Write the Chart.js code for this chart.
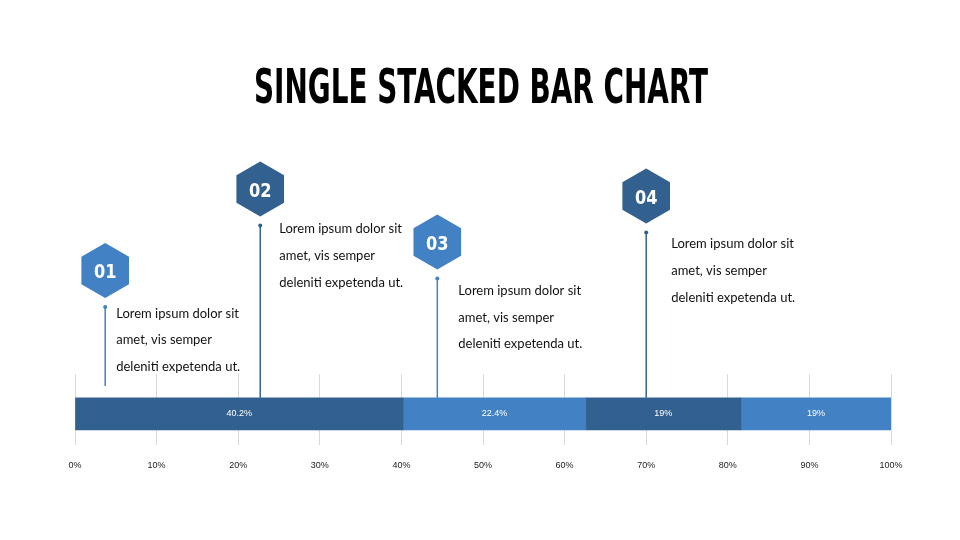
<!DOCTYPE html>
<html>
<head>
<meta charset="utf-8">
<script src="https://cdn.jsdelivr.net/npm/chart.js@4"></script>
<style>
  html, body { margin: 0; padding: 0; background: #fff; }
  #wrap { width: 960px; height: 540px; }
</style>
</head>
<body>
<div id="wrap"><canvas id="chart"></canvas></div>
<script>
// Datos del gráfico
const titulo = 'SINGLE STACKED BAR CHART';
const segmentos = ['40.2%', '22.4%', '19%', '19%'];
const valores = [40.2, 22.4, 19, 19];
const ticks = [0, 10, 20, 30, 40, 50, 60, 70, 80, 90, 100];
const pines = [3.7, 22.7, 44.4, 70];
const numeros = ['01', '02', '03', '04'];
const textoPin = ['Lorem ipsum dolor sit', 'amet, vis semper', 'deleniti expetenda ut.'];

// Estilos
const oscuro = '#33618f';
const claro = '#4281c3';
const coloresSeg = [oscuro, claro, oscuro, claro];
const coloresPin = [claro, oscuro, claro, oscuro];

// Posición de los hexágonos y textos (maquetación)
const hexY = [270.5, 189, 242, 196];
const finLinea = [386, null, null, null];   // null = hasta la barra
const textoDx = [11, 19, 21, 25];
const textoY = [317.5, 233.3, 295, 248.3];

function hexagono(ctx, cx, cy, r) {
  ctx.beginPath();
  for (let i = 0; i < 6; i++) {
    const a = Math.PI / 180 * (60 * i - 90);
    const px = cx + r * Math.cos(a);
    const py = cy + r * Math.sin(a);
    if (i === 0) ctx.moveTo(px, py); else ctx.lineTo(px, py);
  }
  ctx.closePath();
}

const decoracion = {
  id: 'decoracion',
  afterDatasetsDraw(chart) {
    const ctx = chart.ctx;
    const xs = chart.scales.x;
    const area = chart.chartArea;

    // etiquetas dentro de la barra
    ctx.save();
    ctx.font = '9px "Liberation Sans", Arial, sans-serif';
    ctx.fillStyle = '#fff';
    ctx.textAlign = 'center';
    ctx.textBaseline = 'middle';
    let barraTop = 0;
    chart.data.datasets.forEach((ds, i) => {
      const el = chart.getDatasetMeta(i).data[0];
      const x1 = Math.max(el.base, area.left);
      const x2 = Math.min(el.x, area.right);
      barraTop = el.y - el.height / 2;
      ctx.fillText(segmentos[i], (x1 + x2) / 2, el.y);
    });
    ctx.restore();

    // título
    ctx.save();
    ctx.font = 'bold 48px "Liberation Sans Narrow", "DejaVu Sans Condensed", sans-serif';
    const w = ctx.measureText(titulo).width;
    const k = 454 / w;
    ctx.translate(481, 103);
    ctx.scale(k, 1);
    ctx.fillStyle = '#000';
    ctx.textAlign = 'center';
    ctx.textBaseline = 'alphabetic';
    ctx.fillText(titulo, 0, 0);
    ctx.restore();

    // pines con hexágonos
    const r = 27.5;
    pines.forEach((v, i) => {
      const x = xs.getPixelForValue(v);
      const cy = hexY[i];
      const yDot = cy + r + 9;
      const yFin = finLinea[i] === null ? barraTop : finLinea[i];
      ctx.save();
      ctx.strokeStyle = coloresPin[i];
      ctx.fillStyle = coloresPin[i];
      ctx.lineWidth = 1.5;
      ctx.beginPath();
      ctx.moveTo(x, yDot);
      ctx.lineTo(x, yFin);
      ctx.stroke();
      ctx.beginPath();
      ctx.arc(x, yDot, 2, 0, Math.PI * 2);
      ctx.fill();
      hexagono(ctx, x, cy, r);
      ctx.fill();
      ctx.fillStyle = '#fff';
      ctx.font = 'bold 20px "Liberation Sans Narrow", "DejaVu Sans Condensed", sans-serif';
      ctx.textAlign = 'center';
      ctx.textBaseline = 'alphabetic';
      ctx.save();
      ctx.translate(x, cy + 7.5);
      ctx.scale(0.9, 1);
      ctx.fillText(numeros[i], 0, 0);
      ctx.restore();

      ctx.fillStyle = '#111';
      ctx.font = '13px Lato, "Noto Sans", sans-serif';
      ctx.textAlign = 'left';
      textoPin.forEach((t, j) => {
        ctx.fillText(t, x + textoDx[i], textoY[i] + j * 26.7);
      });
      ctx.restore();
    });
  }
};

new Chart(document.getElementById('chart'), {
  type: 'bar',
  data: {
    datasets: valores.map((v, i) => ({
      label: segmentos[i],
      data: [{ x: v, y: 0 }],
      backgroundColor: coloresSeg[i],
      borderWidth: 0,
      barThickness: 32,
      clip: 0
    }))
  },
  options: {
    indexAxis: 'y',
    responsive: true,
    maintainAspectRatio: false,
    animation: false,
    layout: { padding: { left: 75, right: 69, top: 374, bottom: 54 } },
    plugins: { legend: { display: false }, tooltip: { enabled: false } },
    scales: {
      x: {
        type: 'linear',
        min: 0,
        max: 100,
        stacked: true,
        position: 'bottom',
        border: { display: false },
        grid: { color: '#d9d9d9', lineWidth: 1, drawTicks: false },
        afterBuildTicks: (s) => { s.ticks = ticks.map(v => ({ value: v })); },
        ticks: {
          padding: 15,
          color: '#222',
          font: { size: 9, family: '"Liberation Sans", Arial, sans-serif' },
          callback: (v) => v + '%',
          maxRotation: 0
        }
      },
      y: {
        type: 'linear',
        min: -0.41,
        max: 0.59,
        stacked: true,
        display: false
      }
    }
  },
  plugins: [decoracion]
});
</script>
</body>
</html>
